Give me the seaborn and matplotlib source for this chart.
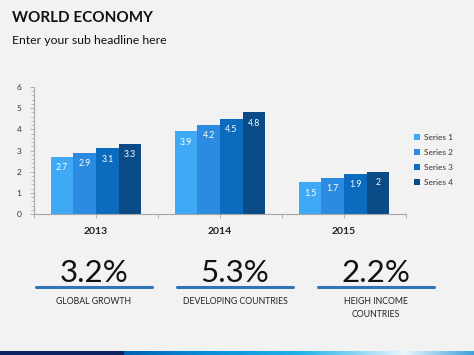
import numpy as np
import pandas as pd
import matplotlib
matplotlib.use("Agg")
import matplotlib.pyplot as plt
from matplotlib.ticker import MultipleLocator
from matplotlib.colors import LinearSegmentedColormap
from matplotlib.patches import Patch
import seaborn as sns

# ---- data ----
years = ["2013", "2014", "2015"]
series_names = ["Series 1", "Series 2", "Series 3", "Series 4"]
series1 = [2.7, 3.9, 1.5]
series2 = [2.9, 4.2, 1.7]
series3 = [3.1, 4.5, 1.9]
series4 = [3.3, 4.8, 2.0]
kpi_values = ["3.2%", "5.3%", "2.2%"]
kpi_labels = ["GLOBAL GROWTH", "DEVELOPING COUNTRIES", "HEIGH INCOME\nCOUNTRIES"]
title = "WORLD ECONOMY"
subtitle = "Enter your sub headline here"

colors = ["#3FA9F5", "#2A8BE0", "#0B6BBE", "#0A4A86"]
bg = "#F2F2F2"

rows = []
for name, vals in zip(series_names, [series1, series2, series3, series4]):
    for y, v in zip(years, vals):
        rows.append({"year": y, "series": name, "value": v})
df = pd.DataFrame(rows)

sns.set_theme(style="white")
plt.rcParams["font.family"] = ["Lato", "DejaVu Sans"]

W, H = 474, 355
fig = plt.figure(figsize=(W / 100, H / 100), dpi=100, facecolor=bg)

def fx(px):
    return px / W

def fy(py):
    return 1 - py / H

ax = fig.add_axes([fx(34), fy(214), fx(406) - fx(34), fy(87) - fy(214)])
ax.set_facecolor(bg)
sns.barplot(data=df, x="year", y="value", hue="series", palette=colors,
            width=0.73, gap=0, saturation=1, ax=ax, legend=False)
for p in ax.patches:
    p.set_linewidth(0)

for cont in ax.containers:
    ax.bar_label(cont, labels=[("%g" % v) for v in cont.datavalues],
                 padding=-11, color="white", fontsize=6.3)

ax.set_ylim(0, 6)
ax.set_xlim(-0.5, 2.5)
ax.set_xlabel("")
ax.set_ylabel("")
ax.yaxis.set_major_locator(MultipleLocator(1))
ax.yaxis.set_minor_locator(MultipleLocator(0.2))
ax.set_xticks([0, 1, 2])
ax.set_xticklabels(years, fontweight="bold", fontsize=7.5, color="#222222")
ax.set_xticks([-0.5, 0.5, 1.5, 2.5], minor=True)
for s in ["top", "right"]:
    ax.spines[s].set_visible(False)
for s in ["left", "bottom"]:
    ax.spines[s].set_color("#A6A6A6")
    ax.spines[s].set_linewidth(0.8)
ax.tick_params(axis="y", which="major", length=3, width=0.6, color="#A6A6A6",
               labelsize=6, labelcolor="#333333", pad=6, left=True)
ax.tick_params(axis="y", which="minor", length=2, width=0.5, color="#A6A6A6", left=True)
ax.tick_params(axis="x", which="both", length=3, width=0.6, color="#A6A6A6",
               bottom=True, pad=6)

# legend
handles = [Patch(facecolor=c, edgecolor="none", label=n) for c, n in zip(colors, series_names)]
leg = fig.legend(handles=handles, loc="upper left", bbox_to_anchor=(fx(411), fy(131)),
                 frameon=False, fontsize=6, handlelength=0.7, handleheight=0.7,
                 handletextpad=0.4, labelspacing=0.95, borderaxespad=0)
for t in leg.get_texts():
    t.set_color("#333333")

# titles
fig.text(fx(12), fy(18.5), title, fontsize=11, fontweight="bold", color="#111111",
         va="center", ha="left")
fig.text(fx(12), fy(40), subtitle, fontsize=8.8, color="#111111", va="center", ha="left")

# KPIs
centers = [94, 235, 376]
for cx, v, lab in zip(centers, kpi_values, kpi_labels):
    fig.text(fx(cx), fy(282), v, fontsize=22.5, color="#111111", ha="center",
             va="baseline")
    fig.add_artist(plt.Line2D([fx(cx - 58), fx(cx + 58)], [fy(287), fy(287)],
                              color="#2E75B6", lw=2.2, transform=fig.transFigure))
    fig.text(fx(cx), fy(297), lab, fontsize=6.3, color="#222222", ha="center",
             va="top", linespacing=1.55)

# bottom decorative strip
strip = fig.add_axes([0, 0, 1, 4 / H])
cmap = LinearSegmentedColormap.from_list(
    "strip",
    [(0.0, "#0B2461"), (123 / W, "#0B2461"), (124 / W, "#0062B2"),
     (200 / W, "#0A8AD6"), (300 / W, "#20B2EA"), (360 / W, "#8FD8F4"),
     (405 / W, "#EAF7FD"), (1.0, "#3FA2DF")])
strip.imshow(np.linspace(0, 1, W)[None, :], aspect="auto", cmap=cmap,
             extent=[0, 1, 0, 1])
strip.set_axis_off()

fig.savefig("out.png", dpi=100, facecolor=bg)
